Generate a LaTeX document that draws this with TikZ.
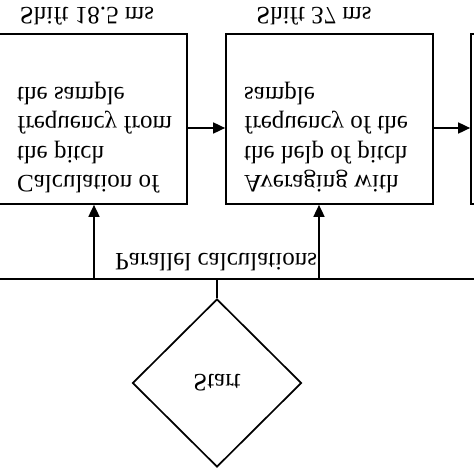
\documentclass[tikz,border=0pt]{standalone}
\usepackage{fontspec}
\setmainfont{Liberation Serif}
\usetikzlibrary{shapes.geometric,arrows.meta}
\newcommand{\flipv}[1]{\scalebox{1}[-1]{#1}}
\begin{document}
\begin{tikzpicture}[x=1pt,y=-1pt,
  every node/.style={font=\fontsize{25}{29.5}\selectfont},
  procbox/.style={draw,line width=1.7pt,minimum height=170pt,inner sep=0pt},
  conn/.style={line width=1.7pt},
  arr/.style={conn,-{Triangle[length=12pt,width=11pt]}},
  lbl/.style={inner sep=0pt}]
\useasboundingbox (0,0) rectangle (474,474);
\clip (0,0) rectangle (474,474);
% boxes
\node[procbox,minimum width=207pt] (box1) at (83.5,119) {};
\node[procbox,minimum width=207pt] (box2) at (329.5,119) {};
\node[procbox,minimum width=207pt] (box3) at (574.5,119) {};
% texts in boxes
\node[lbl,anchor=west] (t1) at (17,137.5) {\flipv{\begin{tabular}{@{}l@{}}Calculation of\\the pitch\\frequency from\\the sample\end{tabular}}};
\node[lbl,anchor=west] (t2) at (244,137.5) {\flipv{\begin{tabular}{@{}l@{}}Averaging with\\the help of pitch\\frequency of the\\sample\end{tabular}}};
% shift labels
\node[lbl] (s1) at (87,16) {\flipv{Shift 18.5 ms}};
\node[lbl] (s2) at (314,16) {\flipv{Shift 37 ms}};
% bus
\coordinate (busL) at (-10,279);
\coordinate (busR) at (484,279);
\coordinate (a1) at (94,279);
\coordinate (a2) at (319,279);
\coordinate (busM) at (217,279);
\draw[conn] (busL) -- (busR);
\node[lbl] (par) at (216,262.5) {\flipv{Parallel calculations}};
\draw[arr] (a1) -- (a1 |- box1.south);
\draw[arr] (a2) -- (a2 |- box2.south);
% horizontal arrows
\draw[arr] (box1.east |- 0,128) -- (box2.west |- 0,128);
\draw[arr] (box2.east |- 0,128) -- (box3.west |- 0,128);
% start
\node[draw,diamond,line width=1.7pt,minimum width=169pt,minimum height=168pt,inner sep=0pt] (start) at (217,383) {\flipv{Start}};
\draw[conn] (busM) -- (start.north);
\end{tikzpicture}
\end{document}
